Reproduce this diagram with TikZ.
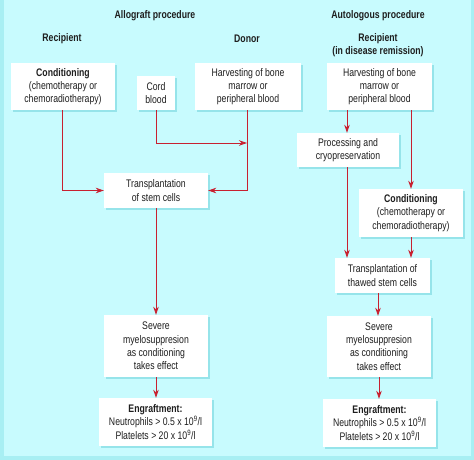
\documentclass[tikz,border=0pt]{standalone}
\usepackage{fontspec}
\setmainfont[FakeStretch=0.79]{Liberation Sans}
\usetikzlibrary{shadows,arrows.meta}
\definecolor{bgc}{HTML}{C8FBFE}
\definecolor{framec}{HTML}{A8EFF3}
\definecolor{shadc}{HTML}{96E4EA}
\definecolor{arrc}{HTML}{C82030}
\definecolor{txtc}{HTML}{1E1E1E}
\tikzset{
  box/.style={draw=none, fill=white, align=center, inner sep=0pt, text=txtc,
    font=\fontsize{11}{13.3}\selectfont,
    drop shadow={shadow xshift=2pt, shadow yshift=-2pt, fill=shadc, opacity=1}},
  ttl/.style={align=center, inner sep=0pt, text=txtc, font=\fontsize{11}{13.3}\selectfont\bfseries},
  arr/.style={draw=arrc, line width=0.9pt, -{Stealth[length=8pt,width=5.5pt]}},
}
\begin{document}
\begin{tikzpicture}[x=1pt,y=-1pt]
\useasboundingbox (0,0) rectangle (474,460);
\fill[framec] (0,0) rectangle (474,460);
\fill[bgc] (4,0) rectangle (471,456);

% titles
\node[ttl] (tA) at (155,16) {Allograft procedure};
\node[ttl] (tR) at (62,39) {Recipient};
\node[ttl] (tD) at (247,39) {Donor};
\node[ttl] (tB) at (378,16) {Autologous procedure};
\node[ttl] (tR2) at (378,45.5) {Recipient\\(in disease remission)};

% allograft boxes
\node[box, minimum width=104pt, minimum height=47pt] (condL) at (63,86.5) {\textbf{Conditioning}\\(chemotherapy or\\chemoradiotherapy)};
\node[box, minimum width=38pt, minimum height=34pt] (cord) at (156,93) {Cord\\blood};
\node[box, minimum width=106pt, minimum height=47pt] (harvD) at (248,86.5) {Harvesting of bone\\marrow or\\peripheral blood};
\node[box, minimum width=104pt, minimum height=35pt] (transL) at (156,190.5) {Transplantation\\of stem cells};
\node[box, minimum width=104pt, minimum height=62pt] (sevL) at (156,346) {Severe\\myelosuppresion\\as conditioning\\takes effect};
\node[box, minimum width=113pt, minimum height=48pt] (engL) at (155.5,422) {\textbf{Engraftment:}\\Neutrophils > 0.5 x 10\textsuperscript{9}/l\\Platelets > 20 x 10\textsuperscript{9}/l};

% autologous boxes
\node[box, minimum width=105pt, minimum height=47pt] (harvA) at (379.5,86.5) {Harvesting of bone\\marrow or\\peripheral blood};
\node[box, minimum width=102pt, minimum height=34pt] (proc) at (348,150) {Processing and\\cryopreservation};
\node[box, minimum width=104pt, minimum height=48pt] (condR) at (411,213) {\textbf{Conditioning}\\(chemotherapy or\\chemoradiotherapy)};
\node[box, minimum width=95pt, minimum height=35pt] (transR) at (382.5,275.5) {Transplantation of\\thawed stem cells};
\node[box, minimum width=104pt, minimum height=61pt] (sevR) at (379,346.5) {Severe\\myelosuppresion\\as conditioning\\takes effect};
\node[box, minimum width=113pt, minimum height=48pt] (engR) at (379.5,423) {\textbf{Engraftment:}\\Neutrophils > 0.5 x 10\textsuperscript{9}/l\\Platelets > 20 x 10\textsuperscript{9}/l};

% allograft connectors
\coordinate (jn) at (247,143);
\draw[arr] ([xshift=-1pt]condL.south) |- (transL.west);
\draw[arr] (cord.south) |- (jn);
\draw[arr] ([xshift=-1pt]harvD.south) |- (transL.east);
\draw[arr] (transL.south) -- (sevL.north);
\draw[arr] (sevL.south) -- (sevL.south |- engL.north);

% autologous connectors
\draw[arr] ([xshift=-1pt]proc.north |- harvA.south) -- ([xshift=-1pt]proc.north);
\draw[arr] (condR.north |- harvA.south) -- (condR.north);
\draw[arr] ([xshift=-1pt]proc.south) -- ([xshift=-1pt]proc.south |- transR.north);
\draw[arr] (condR.south) -- (condR.south |- transR.north);
\draw[arr] ([xshift=-1pt]sevR.north |- transR.south) -- ([xshift=-1pt]sevR.north);
\draw[arr] (sevR.south) -- (sevR.south |- engR.north);
\end{tikzpicture}
\end{document}
